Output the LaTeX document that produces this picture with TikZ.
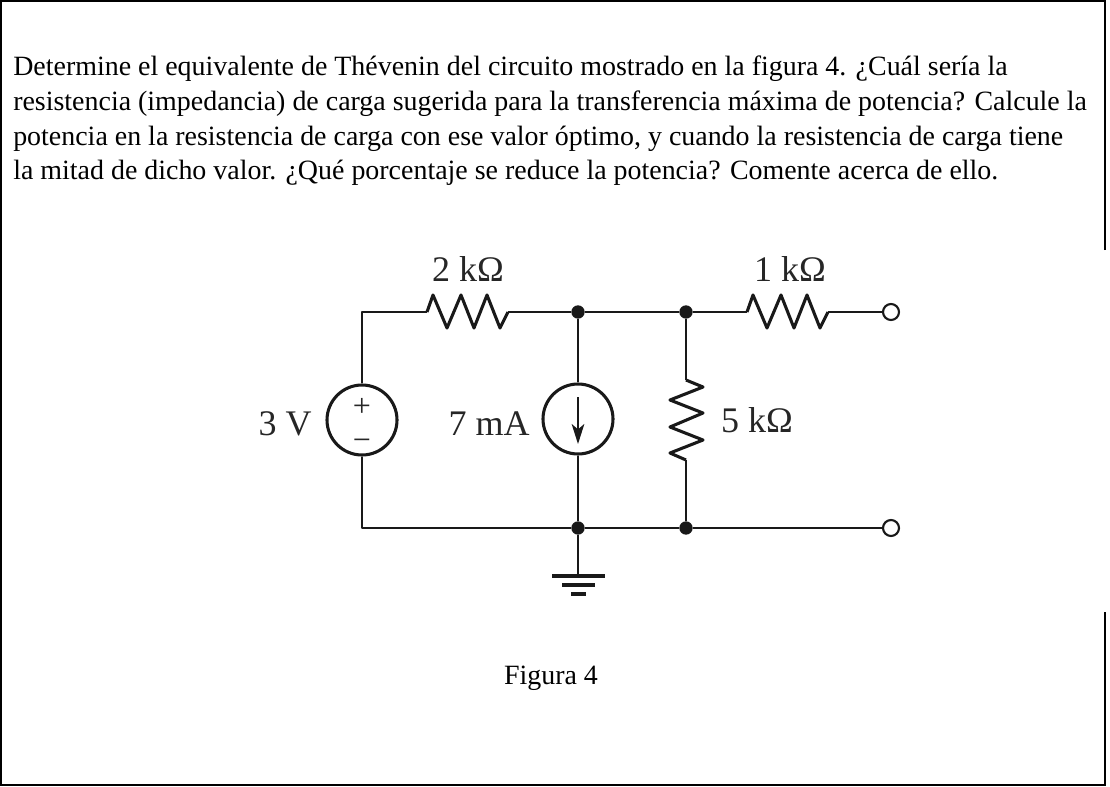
\documentclass[tikz,border=0pt]{standalone}
\usepackage{fontspec}
\setmainfont{Liberation Serif}
\usetikzlibrary{arrows.meta}
\newcommand{\hresistor}[2]
{   \draw[wire, line width=2.3pt] (#1) -- ++(6,-17) -- ++(14,33) -- ++(14,-33) -- ++(13,33) -- ++(13,-33) -- ++(13,33) -- (#2);
}
\newcommand{\vresistor}[2]
{   \draw[wire, line width=2.3pt] (#1) -- ++(17,7) -- ++(-33,13) -- ++(33,13) -- ++(-33,14) -- ++(33,13) -- ++(-33,13) -- (#2);
}
\tikzset{
  wire/.style={line width=2pt, line join=round, black!90},
  jdot/.style={circle, fill=black!90, inner sep=0pt, minimum size=10pt},
  terminal/.style={circle, draw=black!90, fill=white, line width=1.6pt, inner sep=0pt, minimum size=12pt},
  source/.style={circle, draw=black!90, fill=white, line width=2.3pt, inner sep=0pt, minimum size=52.5pt},
  bodytext/.style={anchor=base west, inner sep=0pt, font=\fontsize{20.95}{24}\selectfont},
  value/.style={anchor=base, inner sep=0pt, text=black!85, font=\fontsize{27}{30}\selectfont},
  sign/.style={anchor=base, inner sep=0pt, text=black!85, font=\fontsize{24}{24}\selectfont},
  gndbar/.style={line width=2.6pt, black!90},
}
\begin{document}
\begin{tikzpicture}[x=0.75pt,y=-0.75pt]
 \useasboundingbox (0,0) rectangle (1110,786);
 \draw[line width=1.5pt] (1105,250) -- (1105,1) -- (1,1) -- (1,785) -- (1105,785) -- (1105,612);

 % statement
 \node[bodytext] (line1) at (13,75) {Determine el equivalente de Thévenin del circuito mostrado en la figura 4. ¿Cuál sería la};
 \node[bodytext] (line2) at (13,110) {resistencia (impedancia) de carga sugerida para la transferencia máxima de potencia? Calcule la};
 \node[bodytext] (line3) at (13,145) {potencia en la resistencia de carga con ese valor óptimo, y cuando la resistencia de carga tiene};
 \node[bodytext] (line4) at (13,179) {la mitad de dicho valor. ¿Qué porcentaje se reduce la potencia? Comente acerca de ello.};

 % circuit points
 \coordinate (tl) at (362,312);
 \coordinate (bl) at (362,528);
 \coordinate (r2a) at (427,312);
 \coordinate (r2b) at (508,312);
 \coordinate (r1a) at (747,312);
 \coordinate (r1b) at (828,312);
 \coordinate (r5a) at (686,380);
 \coordinate (r5b) at (686,460);
 \coordinate (gnd) at (578,576);
 \coordinate (arrowa) at (578,397);
 \coordinate (arrowb) at (578,444);
 \node[jdot] (n1) at (578,312) {};
 \node[jdot] (n2) at (686,312) {};
 \node[jdot] (n3) at (578,528) {};
 \node[jdot] (n4) at (686,528) {};
 \node[terminal] (t1) at (891,312) {};
 \node[terminal] (t2) at (891,528) {};
 \node[source] (vs) at (362,420) {};
 \node[source] (is) at (578,419) {};

 \draw[wire] (vs) -- (tl) -- (r2a);
 \hresistor{r2a}{r2b}
 \draw[wire] (r2b) -- (n1) -- (n2) -- (r1a);
 \hresistor{r1a}{r1b}
 \draw[wire] (r1b) -- (t1);
 \draw[wire] (n1) -- (is);
 \draw[wire] (n2) -- (r5a);
 \vresistor{r5a}{r5b}
 \draw[wire] (r5b) -- (n4);
 \draw[wire] (vs) -- (bl) -- (n3) -- (n4) -- (t2);
 \draw[wire] (is) -- (n3) -- (gnd);

 % ground
 \draw[gndbar] (552,576) -- (605,576);
 \draw[gndbar] (562,585) -- (595,585);
 \draw[gndbar] (571,594) -- (586,594);

 % arrow of the current source
 \draw[line width=1.2pt, black!90, -{Stealth[length=15pt,width=9.5pt,inset=4pt]}] (arrowa) -- (arrowb);

 \node[sign] (plus) at (362,416) {+};
 \node[sign] (minus) at (362,450) {−};
 \node[value] (l2k) at (468,281) {2 kΩ};
 \node[value] (l1k) at (790,281) {1 kΩ};
 \node[value] (l3v) at (285,435) {3 V};
 \node[value] (l7ma) at (489,435) {7 mA};
 \node[value] (l5k) at (757,432) {5 kΩ};
 \node[anchor=base, inner sep=0pt, font=\fontsize{20.95}{24}\selectfont] (caption) at (551,684) {Figura 4};
\end{tikzpicture}
\end{document}
